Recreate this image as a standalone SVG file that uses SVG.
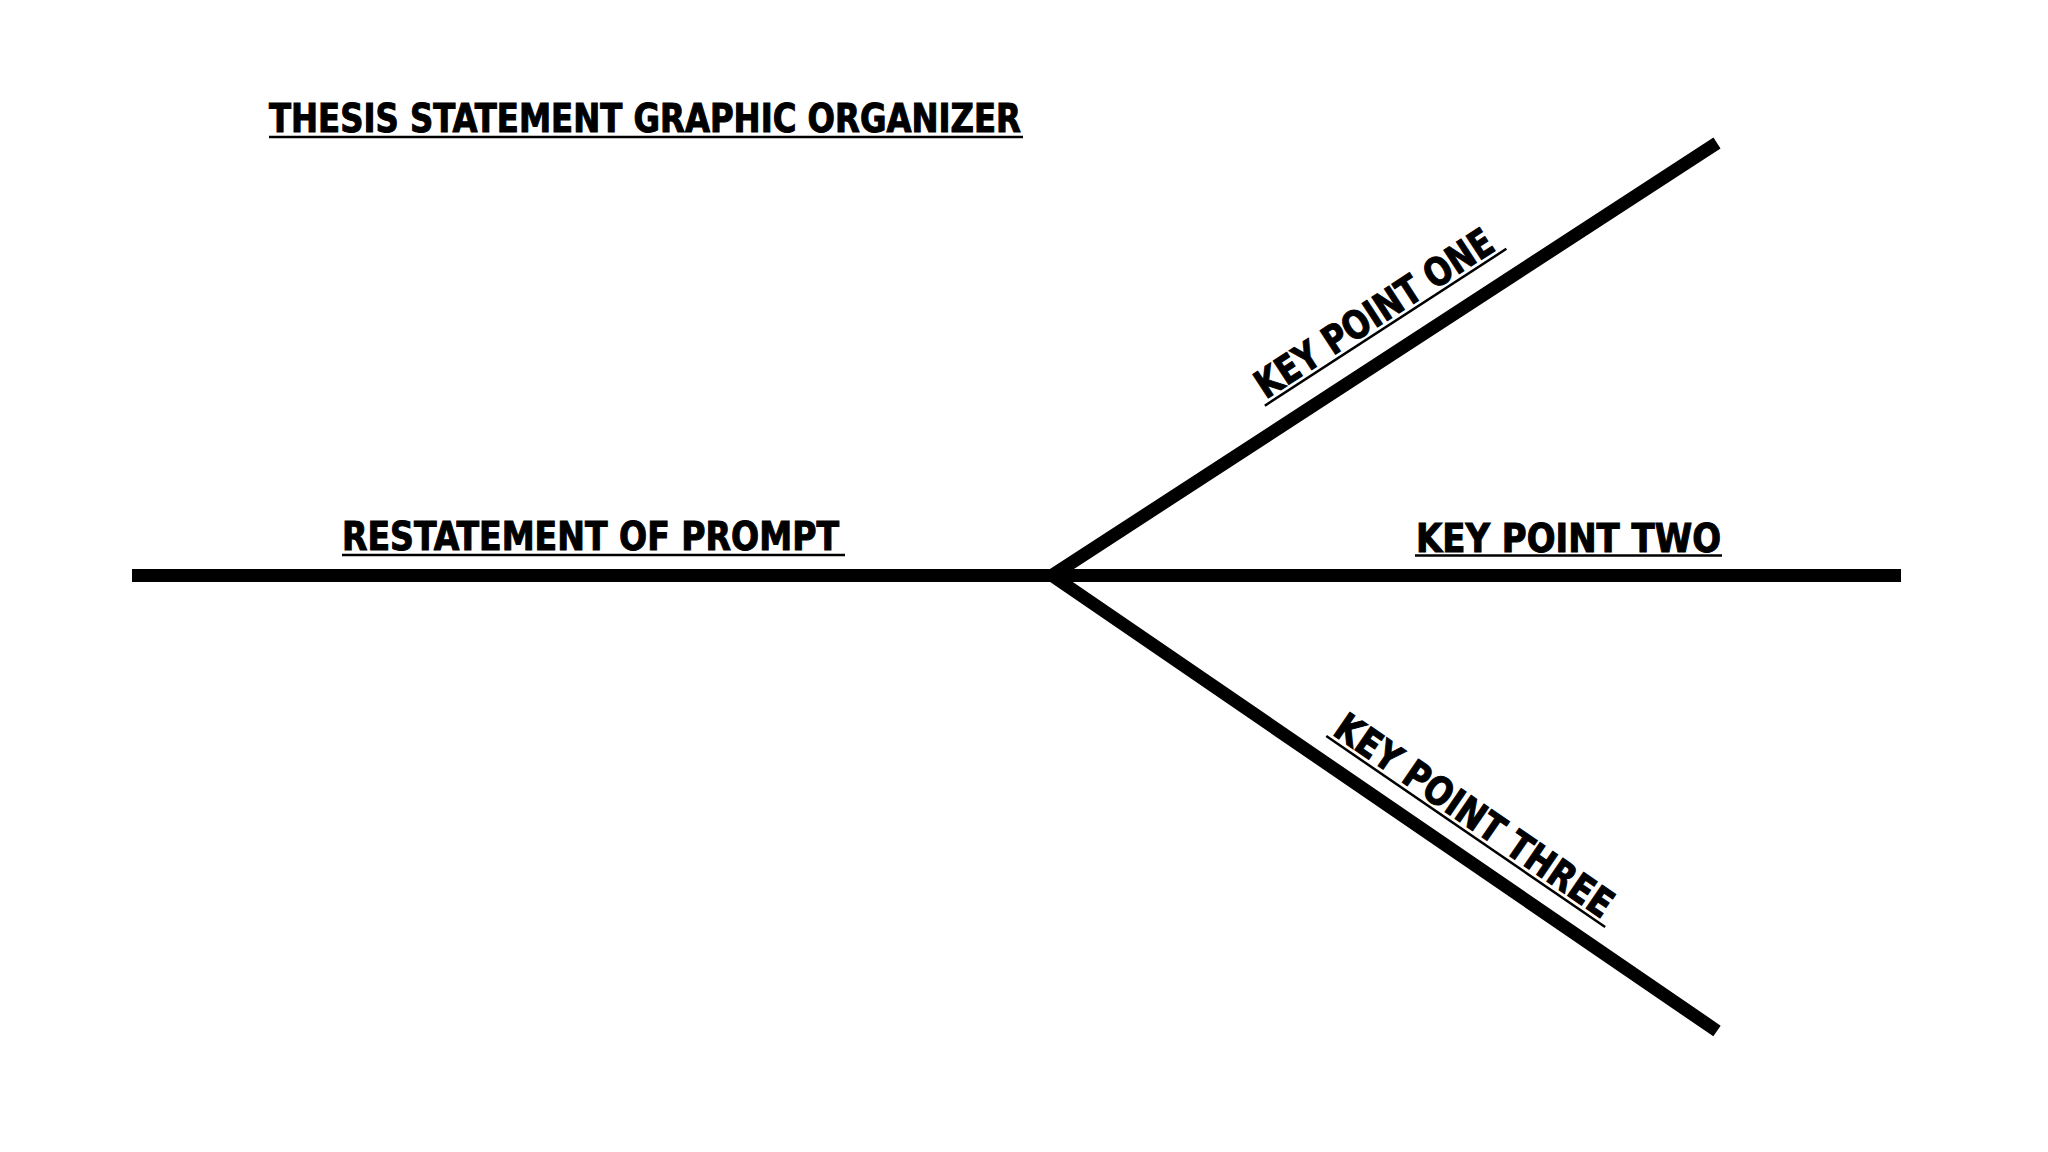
<svg xmlns="http://www.w3.org/2000/svg" width="2048" height="1152" viewBox="0 0 2048 1152">
  <style>
    .lbl { font-family: "Liberation Sans Narrow", "DejaVu Sans Condensed", "Liberation Sans", sans-serif; font-weight: bold; font-size: 39px; fill: #000; stroke: #000; stroke-width: 1; }
    .ul { stroke: #000; stroke-width: 2.5; }
    .bone { stroke: #000; stroke-width: 13; fill: none; stroke-linecap: butt; stroke-linejoin: miter; }
  </style>
  <rect width="2048" height="1152" fill="#fff"/>
  <g id="title">
    <text class="lbl" x="269" y="132" textLength="752" lengthAdjust="spacingAndGlyphs">THESIS STATEMENT GRAPHIC ORGANIZER</text>
    <line class="ul" x1="269" y1="137" x2="1023" y2="137"/>
  </g>
  <g id="connectors">
    <line class="bone" x1="132" y1="575.5" x2="1901" y2="575.5"/>
    <path class="bone" d="M1717,143 L1052,575.5 L1717,1031"/>
  </g>
  <g id="restatement">
    <text class="lbl" x="342" y="550" textLength="497" lengthAdjust="spacingAndGlyphs">RESTATEMENT OF PROMPT</text>
    <line class="ul" x1="342" y1="555" x2="845" y2="555"/>
  </g>
  <g id="key-point-two">
    <text class="lbl" x="1416" y="552" textLength="305" lengthAdjust="spacingAndGlyphs">KEY POINT TWO</text>
    <line class="ul" x1="1415" y1="555.5" x2="1722" y2="555.5"/>
  </g>
  <g id="key-point-one" transform="translate(1052,575.5) rotate(-33)">
    <text class="lbl" x="275" y="-31" textLength="276" lengthAdjust="spacingAndGlyphs">KEY POINT ONE</text>
    <line class="ul" x1="271" y1="-26.5" x2="559" y2="-26.5"/>
  </g>
  <g id="key-point-three" transform="translate(1052,575.5) rotate(34.4)">
    <text class="lbl" x="320" y="-27" textLength="328" lengthAdjust="spacingAndGlyphs">KEY POINT THREE</text>
    <line class="ul" x1="317" y1="-22.5" x2="655" y2="-22.5"/>
  </g>
</svg>
